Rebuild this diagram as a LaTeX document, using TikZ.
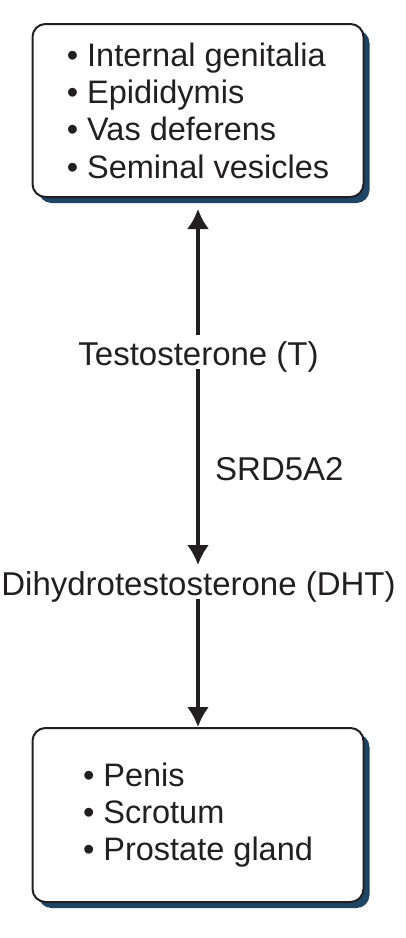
\documentclass[tikz,border=0pt]{standalone}
\usepackage{fontspec}
\setmainfont{Liberation Sans}
\usetikzlibrary{arrows.meta,shadows}
\definecolor{ink}{HTML}{231F20}
\definecolor{shadowblue}{RGB}{30,70,100}
\tikzset{
  box/.style={draw=ink, line width=2pt, rounded corners=13pt, fill=white,
    minimum width=331pt, inner sep=0pt, outer sep=0pt, align=left, text=ink,
    font=\fontsize{32.5}{37.3}\selectfont,
    drop shadow={shadow xshift=6pt, shadow yshift=-6pt, fill=shadowblue, opacity=1}},
  chem/.style={text=ink, font=\fontsize{33}{40}\selectfont, inner sep=0pt,
    outer sep=0pt, text height=30pt, text depth=4pt},
  enzyme/.style={text=ink, font=\fontsize{33}{40}\selectfont, inner sep=0pt},
  arr/.style={draw=ink, line width=3.2pt, -{Latex[length=20pt,width=22pt]}},
}
\begin{document}
\begin{tikzpicture}[x=1pt,y=-1pt]
\useasboundingbox (0,0) rectangle (405,938);
\node[box, minimum height=173pt] (top) at (198,110.5)
  {• Internal genitalia\\• Epididymis\\• Vas deferens\\• Seminal vesicles};
\node[box, minimum height=174pt] (bot) at (198,815)
  {• Penis\\• Scrotum\\• Prostate gland};
\node[chem, anchor=base] (T) at (198.5,365) {Testosterone (T)};
\node[chem, anchor=base] (D) at (198.5,595) {Dihydrotestosterone (DHT)};
\node[enzyme, anchor=base west] (E) at (215,480) {SRD5A2};
\draw[arr, shorten >=12pt] (T.north -| top.south) -- (top.south);
\draw[arr] (T.south -| top.south) -- (D.north -| top.south);
\draw[arr, shorten >=1pt] (D.south -| top.south) -- (bot.north);
\end{tikzpicture}
\end{document}
